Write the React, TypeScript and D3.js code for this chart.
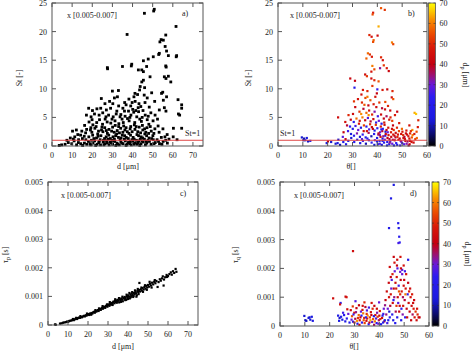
import * as d3 from "d3"

const FONT = "'Liberation Serif', 'Times New Roman', serif"
const FRAME = "#555"

// a) Stokes number vs particle diameter  [d (um), St]
const stByDiameter: [number, number][] = [
  [45.9,23.2],[50.8,23.9],[50.5,23.6],[61.6,20.9],[37.3,19.5],[56.5,19.4],[55.3,18.5],[53.6,18.2],[54.2,18.6],[56.2,17.4],[27.5,13.7],[27.6,13.5],[35.0,13.9],[39.6,14.3],[39.4,14.0],[45.4,14.9],[47.8,15.2],[50.3,15.6],[53.3,16.2],[53.0,16.0],[56.9,16.6],[57.8,15.8],[61.9,15.8],[61.7,15.6],[56.5,14.0],[56.7,13.8],[42.9,13.3],[44.6,13.3],[45.4,13.0],[47.0,13.9],[48.7,12.1],[44.6,11.2],[45.4,11.5],[43.8,10.4],[43.5,9.8],[55.8,12.1],[56.6,11.8],[57.8,12.2],[59.0,11.2],[30.0,9.6],[33.0,9.7],[24.5,8.3],[62.6,8.1],[64.4,7.2],[64.4,6.6],[62.8,5.6],[63.4,5.4],[64.4,3.1],[60.3,3.1],[56.9,8.6],[55.3,8.0],[55.8,6.7],[56.6,6.1],[55.0,9.4],[54.4,9.2],[42.5,9.0],[40.7,8.6],[41.2,9.2],[46.0,10.2],[49.5,9.3],[47.3,8.4],[51.0,7.8],[36.1,7.6],[38.2,8.2],[32.5,8.6],[31.0,8.4],
  [36.8,7.2],[39.1,7.0],[41.3,7.8],[43.2,7.4],[44.1,6.9],[46.2,7.6],[48.3,6.8],[45.2,6.2],[43.0,6.0],[40.1,6.4],[38.0,6.1],[35.2,6.6],[33.1,7.0],[30.2,7.4],[29.1,6.6],[32.2,6.1],[27.0,6.3],[26.3,7.4],[24.2,6.6],[22.3,6.5],[20.1,6.2],[18.2,6.6],[17.1,5.4],[19.4,5.1],[21.1,5.6],[23.4,5.4],[25.2,5.8],[28.1,5.4],[30.4,5.1],[34.2,5.5],[36.3,5.2],[39.2,5.4],[42.1,5.1],[46.3,5.4],[49.1,5.8],[51.2,5.4],[53.3,6.3],[52.4,4.7],[50.2,4.4],[48.1,3.8],[47.3,4.6],[44.4,4.3],[41.1,4.1],[38.3,4.4],[35.4,4.1],[33.2,3.9],[31.3,4.4],[29.2,4.0],[27.4,4.2],[25.1,3.8],[22.2,4.1],[20.3,3.7],[18.4,4.2],[16.2,3.6],[37.5,4.8],[40.6,5.9],[44.8,5.0],[34.8,4.7],[31.9,5.6],[26.4,4.7],[23.6,4.6],[19.9,4.6],[28.6,7.8],[42.8,6.7],[45.8,8.9],[39.8,7.6],[36.0,6.1],[33.8,5.1],
  [17.2,2.9],[19.1,2.8],[21.3,3.1],[23.1,2.6],[26.2,3.2],[28.3,2.9],[30.1,3.3],[32.4,2.7],[34.1,3.1],[36.2,2.8],[39.1,3.4],[41.2,2.9],[43.3,3.3],[45.1,2.8],[47.2,3.2],[49.3,2.6],[51.1,3.0],[53.2,2.4],[55.1,3.0],[57.2,2.0],[54.3,1.5],[58.1,1.2],[60.2,1.6],[62.1,1.1],[12.1,2.8],[10.2,2.6],[14.2,1.9],[11.3,1.6],[9.1,1.4],[13.2,1.1],[15.1,1.3],[18.3,1.6],[20.2,1.9],[22.1,1.4],[24.3,1.8],[26.1,1.3],[28.2,1.9],[30.3,1.6],[32.1,2.1],[34.3,1.4],[36.1,1.8],[38.2,2.2],[40.3,1.5],[42.2,2.0],[44.3,1.6],[46.1,2.1],[48.2,1.4],[50.1,1.8],[52.2,1.1],[56.1,1.6],[16.7,2.3],[19.8,2.4],[22.7,2.1],[25.3,2.5],[27.5,2.2],[29.6,2.6],[31.4,3.6],[33.5,2.3],[35.6,3.5],[37.4,2.5],[38.8,3.0],[40.9,3.7],[42.6,2.5],[44.9,3.6],[46.6,2.4],[48.8,3.4],[50.6,2.2],[52.7,3.5],[24.8,3.3],[21.9,3.4],[37.9,1.3],[43.8,1.2],[35.2,2.4],[31.0,1.2],
  [20.8,1.3],[22.9,1.7],[25.6,1.0],[26.9,1.6],[29.0,1.3],[31.6,1.8],[33.0,1.5],[34.9,1.9],[36.9,1.5],[39.0,1.9],[40.8,1.2],[43.0,1.8],[45.0,1.4],[47.0,1.8],[49.5,1.3],[24.6,2.8],[27.0,2.7],[30.9,2.4],[33.1,3.4],[36.8,3.2],[39.8,2.5],[41.8,3.4],[44.0,2.3],[46.0,3.0],[48.0,2.2],[19.3,3.2],[14.8,2.6],[16.0,1.7],[12.8,2.0],[26.8,5.1],[29.8,4.7],[38.7,5.0],[41.6,6.2],[43.6,4.7],[47.8,5.2],
  [3.6,0.1],[4.8,0.2],[6.5,0.3],[8.1,0.6],[9.8,0.4],[11.0,0.9],[12.2,0.2],[13.1,0.6],[14.3,0.4],[15.2,0.1],[16.1,0.5],[17.3,0.3],[18.1,0.8],[19.2,0.2],[20.4,0.5],[21.2,0.9],[22.4,0.3],[23.2,0.6],[24.1,0.2],[25.4,0.7],[26.2,0.4],[27.1,0.9],[28.4,0.2],[29.3,0.6],[30.1,0.3],[31.2,0.8],[32.3,0.5],[33.4,0.2],[34.2,0.7],[35.3,0.4],[36.4,0.9],[37.2,0.3],[38.3,0.6],[39.4,0.2],[40.2,0.8],[41.4,0.5],[42.3,0.3],[43.1,0.9],[44.2,0.4],[45.3,0.7],[46.4,0.2],[47.1,0.5],[48.4,0.8],[49.2,0.3],[51.3,0.6],[53.4,0.4],[55.2,0.8],[57.3,0.5],[7.4,1.0],[10.6,1.2],[16.8,1.1],[19.6,1.0],[23.9,1.1],[27.8,1.2],[29.9,1.0],[33.8,1.1],[35.9,1.2],[39.7,1.1],[41.9,1.0],[45.9,1.2],[47.7,1.0],[50.3,1.1],[21.7,0.1],[25.8,0.2],[31.7,0.1],[36.8,0.1],[43.6,0.1],[18.9,0.4],[27.4,0.5],[34.7,0.5],[40.7,0.3],[44.7,0.9],[23.5,0.8],[30.8,0.9],[38.9,0.8],[28.8,0.7],[37.8,0.6],
  [32.6,0.3],[38.6,0.4],[42.8,0.6],[46.8,0.8],[50.7,0.4],[52.9,0.8],[54.6,0.3],[56.5,1.0],
]

// b) Stokes number vs angle, coloured by diameter  [theta (deg), St, d (um)]
const stByAngle: [number, number, number][] = [
  [41.5,24.1,56],[43.0,23.8,52],[38.3,23.3,48],[38.1,23.0,55],[40.5,20.9,64],[36.8,19.4,50],[37.7,19.1,46],[40.1,19.3,44],[38.5,18.5,58],[38.3,18.2,55],[45.9,18.1,60],[46.4,17.8,54],[36.2,16.2,58],[37.0,16.0,52],[37.8,15.6,48],[35.6,15.3,57],[41.5,15.5,50],[42.2,15.0,45],[42.6,14.1,52],[43.8,13.6,48],[44.6,13.1,42],[38.0,14.0,60],[38.8,13.4,55],[37.6,13.0,46],[41.1,13.6,33],[35.1,12.5,44],[35.8,12.2,52],[37.6,11.8,43],[29.1,11.8,42],[31.0,11.4,40],[30.8,10.2,20],[38.8,11.5,50],[40.5,11.3,56],[42.1,9.8,48],[44.0,9.9,42],[46.1,9.6,50],[45.8,8.5,44],[46.4,8.2,56],[33.6,9.0,45],[36.0,9.6,50],[39.8,9.2,40],[43.2,7.7,55],[24.2,5.0,44],[55.0,5.8,64],[55.6,5.6,66],[56.5,4.5,50],[56.3,3.3,48],[52.9,3.6,46],[54.1,2.8,62],[55.8,2.5,55],[53.2,2.2,50],
  [32.2,8.2,46],[33.8,7.6,50],[35.2,8.4,54],[36.4,7.1,40],[37.2,8.0,56],[38.5,7.3,48],[39.6,6.8,44],[40.8,7.6,52],[41.9,6.6,38],[43.1,6.4,45],[44.3,7.0,50],[45.2,6.2,42],[47.1,5.4,48],[48.0,6.0,40],[31.1,6.8,42],[30.2,5.6,44],[32.8,6.0,52],[34.4,6.5,38],[35.6,5.8,58],[36.7,6.2,46],[37.9,5.5,50],[38.9,6.0,32],[40.2,5.2,26],[41.5,5.5,44],[42.6,4.8,40],[43.7,5.2,36],[44.8,4.6,47],[46.0,4.4,53],[29.3,4.6,40],[30.5,4.2,22],[31.6,4.8,58],[32.9,4.4,46],[34.0,5.0,60],[35.1,4.5,42],[36.2,4.9,28],[37.3,4.3,38],[38.4,4.7,44],[39.5,4.1,24],[40.6,4.4,30],[41.7,3.9,18],[42.8,4.1,48],[27.8,3.6,38],[33.5,5.6,62],[34.8,7.2,56],[36.0,8.6,60],[39.2,8.6,46],[30.6,7.8,52],[28.4,5.4,50],[27.1,4.2,46],[26.4,2.4,40],[34.2,9.8,48],[38.0,10.5,52],[40.0,9.9,25],
  [29.0,3.4,22],[30.1,3.0,18],[31.2,3.5,26],[32.3,2.8,30],[33.4,3.2,16],[34.5,2.6,44],[35.6,3.4,20],[36.7,2.9,28],[37.8,3.3,42],[38.9,2.7,14],[40.0,3.1,24],[41.1,2.4,30],[42.2,3.0,20],[43.3,2.5,12],[44.4,3.2,46],[28.2,2.6,26],[29.4,2.1,14],[30.6,1.8,20],[31.8,2.2,32],[33.0,1.6,12],[34.1,2.0,24],[35.3,1.5,18],[36.5,2.3,36],[37.6,1.7,10],[38.7,2.1,22],[39.9,1.4,16],[41.0,1.9,26],[42.1,1.3,14],[43.2,1.8,20],[26.1,1.6,28],[27.2,1.2,40],[28.3,0.9,16],[29.5,1.4,12],[30.7,0.7,22],[31.9,1.1,18],[33.1,0.5,14],[34.2,0.9,26],[35.4,0.4,10],[36.6,1.0,20],[37.7,0.6,24],[38.8,0.2,12],[39.9,0.8,16],[41.0,0.4,28],[42.1,0.9,18],[24.0,0.5,14],[24.3,1.1,12],[25.0,0.2,10],[26.3,0.7,18],[27.4,0.3,16],[23.2,0.4,12],[20.1,0.8,40],[21.4,0.7,12],[19.6,0.5,14],[9.6,1.5,12],[10.5,1.3,10],[11.0,1.0,14],[12.1,0.8,11],[13.0,0.9,15],[11.6,1.4,13],[10.2,1.0,9],
  [40.5,2.2,42],[41.3,1.6,46],[42.0,2.6,38],[42.7,0.6,22],[43.4,2.1,44],[44.1,1.4,40],[44.8,0.3,16],[45.5,2.4,48],[46.2,1.1,36],[46.9,1.8,42],[47.6,0.5,24],[48.3,2.0,46],[49.0,1.3,40],[49.7,0.7,30],[50.4,1.9,52],[51.1,1.2,44],[51.8,0.4,32],[52.5,1.7,48],[53.2,0.9,40],[53.9,1.5,56],[54.6,0.6,44],[55.3,1.2,52],[41.8,0.2,14],[43.0,1.1,30],[44.5,1.9,46],[45.2,0.8,26],[46.6,2.8,52],[47.3,1.5,38],[48.0,0.2,20],[48.7,2.6,54],[49.4,0.9,34],[50.1,2.5,48],[50.8,0.3,28],[51.5,2.2,42],[52.2,0.8,36],[52.9,1.3,46],[43.7,2.8,40],[45.9,3.0,44],[47.9,3.2,50],[49.9,3.0,58],[51.7,2.7,46],[40.9,0.9,18],[42.4,1.7,34],[44.0,0.7,20],[46.0,0.4,30],[47.0,1.0,40],[48.5,1.1,44],[50.5,1.4,46],[52.0,2.0,42],[53.5,2.6,52],[54.2,1.9,60],[41.6,2.9,24],[44.9,1.2,38],[46.7,0.1,16],[49.2,0.1,26],[43.9,0.1,18],[45.6,1.6,42],[47.4,2.3,44],[50.9,1.6,38],[53.0,0.3,40],[42.9,3.7,44],[46.3,3.6,40],[48.8,4.0,48],
  [35.8,2.6,46],[37.1,3.8,50],[38.2,3.0,40],[39.4,3.7,52],[40.4,2.0,36],[41.4,3.4,48],[39.0,1.0,30],[40.2,0.3,20],[36.0,1.3,22],[33.8,1.2,28],[32.6,3.9,48],[34.6,3.6,54],[44.2,2.4,30],[45.0,0.6,34],[46.4,2.0,46],[48.1,1.6,50],[49.6,2.1,44],[51.3,0.9,40],[52.6,0.1,38],[50.0,0.5,26],[53.8,0.7,46],[54.9,2.1,48],[55.9,1.4,58],[45.3,5.0,50],[36.5,5.4,62],
]

// c) particle relaxation time vs diameter  [d (um), tau_p (s)]
const tauPByDiameter: [number, number][] = [
  [3.5,0.00002],[3.9,0.00001],[6.0,0.00005],[6.8,0.00006],[7.5,0.00008],[8.2,0.00009],[8.9,0.0001],[9.5,0.00012],[10.1,0.00011],[10.6,0.00014],[11.2,0.00015],[11.8,0.00016],[12.3,0.00018],[12.9,0.00017],[13.4,0.0002],[13.9,0.00022],[14.5,0.00021],[15.0,0.00024],[15.5,0.00026],[16.0,0.00025],[16.5,0.00028],[17.0,0.00027],[17.5,0.0003],[18.0,0.00032],[18.4,0.0003],[18.9,0.00034],[19.3,0.00033],[19.8,0.00036],[20.2,0.00038],[20.6,0.00035],[21.0,0.0004],[21.4,0.00039],[21.8,0.00042],[22.2,0.0004],[22.6,0.00044],[23.0,0.00046],[23.4,0.00043],[23.8,0.00048],[24.2,0.00047],[24.6,0.0005],[25.0,0.00052],[25.3,0.00049],[25.7,0.00054],[26.0,0.00056],[26.4,0.00053],[26.8,0.00058],[27.1,0.0006],[27.5,0.00057],[27.9,0.00062],[28.2,0.00064],[28.6,0.0006],[29.0,0.00066],[29.3,0.00068],[29.7,0.00064],[30.0,0.0007],[30.4,0.00072],[30.7,0.00067],[31.1,0.00074],[31.4,0.00071],[31.8,0.00077],[32.1,0.00074],[32.5,0.00079],[32.8,0.00082],[33.2,0.00076],[33.5,0.00084],[33.9,0.0008],[34.2,0.00086],[34.6,0.00082],[34.9,0.00088],[35.3,0.00085],[35.6,0.00079],[36.0,0.0009],[36.3,0.00087],[36.7,0.00093],[37.0,0.00089],[37.4,0.00083],[37.7,0.00095],[38.1,0.00092],[38.4,0.00098],[38.8,0.00094],[39.1,0.00088],[39.5,0.00101],[39.8,0.00097],[40.2,0.00104],[40.5,0.00099],[40.9,0.00093],[41.2,0.00107],[41.6,0.00102],[41.9,0.0011],[42.3,0.00105],[42.6,0.00098],[43.0,0.00112],[43.3,0.00108],[43.7,0.00116],[44.0,0.00111],[44.4,0.00104],[44.7,0.00119],[45.1,0.00115],[45.7,0.00147],[45.5,0.00122],[46.0,0.00117],[46.4,0.00125],[46.9,0.0012],[47.3,0.00129],[47.8,0.00124],[48.2,0.00133],[48.7,0.00127],[49.1,0.00137],[49.6,0.00131],[50.0,0.0014],[50.5,0.00134],[51.0,0.00144],[51.5,0.00138],[52.0,0.00148],[52.6,0.00142],[53.1,0.00151],[53.7,0.00146],[54.2,0.00154],[54.8,0.00133],[55.3,0.0015],[55.9,0.0016],[56.4,0.00155],[57.0,0.00163],[57.4,0.0017],[58.0,0.00159],[58.6,0.00167],[59.3,0.00175],[60.0,0.00171],[60.7,0.00178],[61.4,0.00184],[61.9,0.00176],[62.5,0.00188],[63.1,0.00182],[63.8,0.00196],[64.2,0.00186],[57.8,0.00138],[59.5,0.00168],
  [25.5,0.00058],[27.3,0.00066],[29.5,0.00072],[30.9,0.0008],[32.3,0.0007],[33.6,0.0009],[34.4,0.00078],[35.5,0.00094],[36.5,0.00081],[37.2,0.00099],[38.6,0.00087],[39.3,0.00106],[40.0,0.00091],[40.7,0.00112],[41.4,0.00097],[42.1,0.00115],[42.8,0.00102],[43.5,0.00121],[44.2,0.00099],[44.9,0.00126],[45.3,0.00108],[46.7,0.00131],[47.5,0.00116],[48.5,0.00139],[49.4,0.00123],[50.8,0.00151],[51.8,0.00131],[53.4,0.00157],[19.5,0.0004],[21.6,0.00036],[23.7,0.00052],[16.2,0.00031],[14.1,0.00025],[12.5,0.00021],
]

// d) fluid time scale vs angle, coloured by diameter  [theta (deg), tau_q (s), d (um)]
const tauQByAngle: [number, number, number][] = [
  [45.8,0.0049,14],[44.7,0.00443,16],[43.9,0.0034,18],[47.6,0.00357,20],[47.8,0.0034,18],[48.0,0.0031,22],[48.2,0.0029,24],[47.7,0.00288,26],[29.4,0.0026,44],[45.8,0.0024,42],[46.1,0.0022,46],[51.6,0.0023,20],[48.5,0.0024,46],[47.1,0.0021,40],[49.2,0.00195,28],[48.4,0.00188,30],[50.3,0.0019,26],[44.2,0.00205,44],[45.3,0.0018,48],[21.4,0.00096,44],[26.4,0.00102,42],[26.8,0.001,46],[24.4,0.0008,22],[24.2,0.00075,46],
  [9.8,0.00035,12],[10.2,0.0002,10],[11.5,0.00028,14],[12.2,0.00022,12],[12.8,0.00032,13],[10.6,0.00018,11],[13.2,0.00018,15],[11.9,0.0003,12],
  [23.4,0.00036,16],[24.0,0.00028,12],[24.6,0.00032,18],[25.1,0.00022,14],[25.8,0.00038,20],[26.3,0.00016,16],[26.9,0.00026,22],[27.5,0.00042,30],[28.0,0.00012,18],[23.8,0.00018,14],[25.4,0.00046,26],[27.1,0.00058,44],
  [28.5,0.00055,42],[29.0,0.00034,56],[29.4,0.00015,20],[29.9,0.00046,48],[30.3,0.00025,36],[30.8,0.00062,40],[31.2,0.00008,18],[31.7,0.00038,58],[32.1,0.0002,46],[32.6,0.0005,30],[33.0,0.00012,24],[33.5,0.00044,60],[33.9,0.00028,50],[34.4,0.00066,38],[34.8,0.00018,42],[35.3,0.00036,62],[35.7,0.00006,22],[36.2,0.0003,52],[36.6,0.00048,44],[37.1,0.00014,28],[37.5,0.00024,56],[38.0,0.0007,40],[38.4,0.00038,46],[38.9,0.0001,20],[39.3,0.00032,54],[39.8,0.0002,36],[40.2,0.00052,48],[40.7,0.00006,16],[41.1,0.00028,44],[41.6,0.00042,26],[42.0,0.00016,38],[28.8,0.00022,30],[30.0,0.00012,48],[31.4,0.00028,52],[32.8,0.00036,22],[34.1,0.0001,54],[35.0,0.00054,28],[36.4,0.0002,64],[37.8,0.00034,18],[39.1,0.00046,32],[40.4,0.00024,50],[41.8,0.0006,30],[29.6,0.0004,26],[31.0,0.00018,62],[32.4,0.0003,40],[33.7,0.0002,56],[35.1,0.00026,46],[36.8,0.00038,42],[38.2,0.00016,60],[39.6,0.00008,30],[41.3,0.00036,20],[30.6,0.00048,34],[33.2,0.00056,46],[34.6,0.0003,24],[36.0,0.00012,40],[37.3,0.0006,50],[38.7,0.00026,28],[40.0,0.00036,42],[41.5,0.00012,22],[32.0,0.00004,44],[34.9,0.00042,52],[37.9,0.00004,36],[39.0,0.0006,44],[42.3,0.00072,34],[33.3,0.0007,44],[35.8,0.00064,26],[31.8,0.00072,40],[36.9,0.0008,46],[39.9,0.00082,30],[29.3,0.00068,52],[34.0,0.00082,50],[30.4,0.00086,28],
  [42.5,0.0009,40],[43.0,0.0012,44],[43.4,0.0006,30],[43.8,0.0015,42],[44.2,0.0003,22],[44.6,0.0011,46],[45.0,0.0016,28],[45.4,0.0008,44],[45.8,0.0013,40],[46.2,0.0019,30],[46.6,0.0005,36],[47.0,0.0017,46],[47.4,0.001,42],[47.8,0.0014,26],[48.2,0.0007,44],[48.6,0.0016,40],[49.0,0.0012,48],[49.4,0.0004,32],[49.8,0.0014,44],[50.2,0.0009,38],[50.6,0.0013,46],[51.0,0.0006,42],[51.4,0.0011,24],[51.8,0.0008,44],[52.2,0.0005,40],[52.6,0.001,46],[53.0,0.0007,44],[53.4,0.0004,36],[53.8,0.0006,48],[54.2,0.0003,46],[54.6,0.0005,52],[55.0,0.0002,44],[55.4,0.0004,50],[55.8,0.0003,48],[56.2,0.0003,40],[42.8,0.0004,34],[43.6,0.0002,18],[44.4,0.0007,38],[45.2,0.0004,20],[46.0,0.001,34],[46.8,0.0013,48],[47.6,0.0008,28],[48.4,0.0011,50],[49.2,0.0018,30],[50.0,0.0016,42],[50.8,0.0018,46],[51.6,0.0015,40],[52.4,0.0013,44],[53.2,0.0011,48],[54.0,0.0009,42],[44.0,0.0005,12],[45.6,0.0002,16],[47.2,0.0003,20],[48.8,0.0002,18],[50.4,0.0003,24],[42.2,0.0002,14],[43.2,0.0001,26],[46.4,0.0001,22],[48.0,0.0005,40],[49.6,0.0007,46],[51.2,0.0003,44],[52.8,0.0002,42],[44.8,0.0013,30],[46.5,0.0015,44],[47.3,0.002,28],[48.7,0.002,42],[49.5,0.001,36],[50.5,0.0011,60],[47.9,0.0012,56],[45.7,0.0009,24],[43.9,0.001,46],[52.0,0.0012,50],[53.6,0.0008,44],[55.2,0.0006,46],[48.9,0.0006,22],[46.9,0.0007,52],[44.6,0.0017,40],[47.2,0.0023,44],[49.8,0.0021,46],
]

const diameterTicks = [0, 10, 20, 30, 40, 50, 60, 70]
const angleTicks = [0, 10, 20, 30, 40, 50, 60]
const stTicks = [0, 5, 10, 15, 20, 25]
const tauTicks = [0, 0.001, 0.002, 0.003, 0.004, 0.005]
const cbTicks = [0, 10, 20, 30, 40, 50, 60, 70]

// palette black-blue-purple-red-orange-yellow
const palette = d3
  .scaleLinear<string>()
  .domain([0, 6, 13, 24, 30, 35, 40, 48, 55, 62, 70])
  .range(["#000000", "#0c0c70", "#1a1ae0", "#2c1cf0", "#6a18d8", "#a0106a", "#c40010", "#d81808", "#ec4a00", "#f89000", "#ffff00"])
  .clamp(true)

type Lin = d3.ScaleLinear<number, number>

function Axes({ x, y, xTicks, yTicks, yFmt }: { x: Lin; y: Lin; xTicks: number[]; yTicks: number[]; yFmt?: (v: number) => string }) {
  const [x0, x1] = x.range()
  const [y1, y0] = y.range()
  return (
    <g>
      {xTicks.map((t) => (
        <g key={"x" + t}>
          <line x1={x(t)} x2={x(t)} y1={y1} y2={y1 - 4} stroke={FRAME} />
          <line x1={x(t)} x2={x(t)} y1={y0} y2={y0 + 4} stroke={FRAME} />
          <text x={x(t)} y={y1 + 12} textAnchor="middle">{t}</text>
        </g>
      ))}
      {yTicks.map((t) => (
        <g key={"y" + t}>
          <line x1={x0} x2={x0 + 4} y1={y(t)} y2={y(t)} stroke={FRAME} />
          <line x1={x1} x2={x1 - 4} y1={y(t)} y2={y(t)} stroke={FRAME} />
          <text x={x0 - 5} y={y(t) + 3} textAnchor="end">{yFmt ? yFmt(t) : t}</text>
        </g>
      ))}
      <rect x={x0} y={y0} width={x1 - x0} height={y1 - y0} fill="none" stroke={FRAME} />
    </g>
  )
}

function ColorBar({ id, x, y0, y1 }: { id: string; x: number; y0: number; y1: number }) {
  const w = 7
  const s = d3.scaleLinear().domain([0, 70]).range([y1, y0])
  const stops = d3.range(0, 71, 2)
  return (
    <g>
      <defs>
        <linearGradient id={id} x1="0" y1="1" x2="0" y2="0">
          {stops.map((v) => (
            <stop key={v} offset={v / 70} stopColor={palette(v)} />
          ))}
        </linearGradient>
      </defs>
      <rect x={x} y={y0} width={w} height={y1 - y0} fill={`url(#${id})`} stroke={FRAME} strokeWidth={0.8} />
      {cbTicks.map((t) => (
        <g key={t}>
          <line x1={x} x2={x + 2} y1={s(t)} y2={s(t)} stroke="#333" strokeWidth={0.6} />
          <line x1={x + w} x2={x + w - 2} y1={s(t)} y2={s(t)} stroke="#333" strokeWidth={0.6} />
          <text x={x + w + 4} y={s(t) + 3}>{t}</text>
        </g>
      ))}
    </g>
  )
}

export default function App() {
  // panel frames (pixels)
  const xa = d3.scaleLinear().domain([0, 75]).range([52, 203])
  const ya = d3.scaleLinear().domain([0, 25]).range([146, 3])
  const xb = d3.scaleLinear().domain([0, 60]).range([278, 427])
  const yb = d3.scaleLinear().domain([0, 25]).range([146, 3])
  const xc = d3.scaleLinear().domain([0, 75]).range([48, 198])
  const yc = d3.scaleLinear().domain([0, 0.005]).range([325, 182])
  const xd = d3.scaleLinear().domain([0, 60]).range([280, 429])
  const yd = d3.scaleLinear().domain([0, 0.005]).range([326, 182])
  const tauFmt = (v: number) => (v === 0 ? "0" : d3.format(".3f")(v))

  return (
    <svg width={474} height={351} style={{ position: "absolute", left: 0, top: 0, background: "#fff" }} fontFamily={FONT} fontSize={8} fill="#222">
      <rect width={474} height={351} fill="#fff" />

      {/* a) */}
      <g>
        {stByDiameter.map(([d, s], i) => (
          <rect key={i} x={xa(d) - 1.4} y={ya(s) - 1.4} width={2.8} height={2.8} fill="#000" />
        ))}
        <line x1={xa(0)} x2={xa(75)} y1={ya(1)} y2={ya(1)} stroke="#e04848" strokeWidth={1} />
        <Axes x={xa} y={ya} xTicks={diameterTicks} yTicks={stTicks} />
        <text x={67} y={18}>x [0.005-0.007]</text>
        <text x={182} y={16}>a)</text>
        <text x={185} y={136}>St=1</text>
        <text x={128} y={169} textAnchor="middle">d [μm]</text>
        <text transform="translate(22,78) rotate(-90)" textAnchor="middle">St [-]</text>
      </g>

      {/* b) */}
      <g>
        {stByAngle.map(([t, s, d], i) => (
          <rect key={i} x={xb(t) - 1.1} y={yb(s) - 1.1} width={2.2} height={2.2} fill={palette(d)} />
        ))}
        <line x1={xb(0)} x2={xb(60)} y1={yb(1)} y2={yb(1)} stroke="#e04848" strokeWidth={1} />
        <Axes x={xb} y={yb} xTicks={angleTicks} yTicks={stTicks} />
        <ColorBar id="cb1" x={428.5} y0={3} y1={146} />
        <text x={290} y={18}>x [0.005-0.007]</text>
        <text x={408} y={16}>b)</text>
        <text x={280} y={136}>St=1</text>
        <text x={351} y={169} textAnchor="middle">θ[]</text>
        <text transform="translate(251,78) rotate(-90)" textAnchor="middle">St [-]</text>
        <text transform="translate(463,75) rotate(90)" textAnchor="middle">
          d<tspan fontSize={6} dy={2}>p</tspan><tspan dy={-2}> [μm]</tspan>
        </text>
      </g>

      {/* c) */}
      <g>
        {tauPByDiameter.map(([d, t], i) => (
          <rect key={i} x={xc(d) - 1.1} y={yc(t) - 1.1} width={2.2} height={2.2} fill="#000" />
        ))}
        <Axes x={xc} y={yc} xTicks={diameterTicks} yTicks={tauTicks} yFmt={tauFmt} />
        <text x={61} y={198}>x [0.005-0.007]</text>
        <text x={180} y={196}>c)</text>
        <text x={123} y={349} textAnchor="middle">d [μm]</text>
        <text transform="translate(8,255) rotate(-90)" textAnchor="middle">
          τ<tspan fontSize={6} dy={2}>p</tspan><tspan dy={-2}> [s]</tspan>
        </text>
      </g>

      {/* d) */}
      <g>
        {tauQByAngle.map(([t, q, d], i) => (
          <rect key={i} x={xd(t) - 1.1} y={yd(q) - 1.1} width={2.2} height={2.2} fill={palette(d)} />
        ))}
        <Axes x={xd} y={yd} xTicks={angleTicks} yTicks={tauTicks} yFmt={tauFmt} />
        <ColorBar id="cb2" x={432} y0={182} y1={326} />
        <text x={294} y={198}>x [0.005-0.007]</text>
        <text x={410} y={196}>d)</text>
        <text x={354} y={349} textAnchor="middle">θ[]</text>
        <text transform="translate(238,255) rotate(-90)" textAnchor="middle">
          τ<tspan fontSize={6} dy={2}>q</tspan><tspan dy={-2}> [s]</tspan>
        </text>
        <text transform="translate(465,254) rotate(90)" textAnchor="middle">
          d<tspan fontSize={6} dy={2}>p</tspan><tspan dy={-2}> [μm]</tspan>
        </text>
      </g>
    </svg>
  )
}
